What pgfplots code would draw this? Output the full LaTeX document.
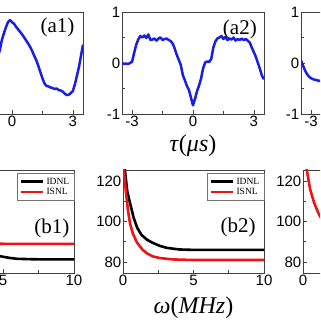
\documentclass[border=0pt]{standalone}
\usepackage{fontspec}
\setmainfont{Liberation Serif}
\setsansfont{Liberation Sans}
\usepackage{pgfplots}
\pgfplotsset{compat=1.18}

\definecolor{traceblue}{RGB}{25,30,228}
\definecolor{tracered}{RGB}{238,20,20}

\tikzset{
  trace/.style={line width=2.5pt, traceblue, line join=round},
  idnl/.style={line width=2.6pt, black, line join=round},
  isnl/.style={line width=2.6pt, tracered, line join=round},
  tag/.style={font=\fontsize{21}{21}\selectfont},
}

\pgfplotsset{
  panel/.style={
    scale only axis, width=142pt, height=102pt,
    anchor=south west,
    axis line style={line width=0.8pt, black!75},
    tick style={line width=0.7pt, black!75},
    major tick length=3.5pt, minor tick length=3pt,
    tick pos=left,
    tick label style={font=\fontsize{15}{15}\selectfont\sffamily, inner sep=1.5pt},
    xlabel style={at={(axis description cs:0.5,0)}, anchor=center, yshift=-32pt,
                  font=\fontsize{24}{24}\selectfont},
  },
  tpanel/.style={panel,
    xmin=-3.5, xmax=3.5, ymin=-1, ymax=1,
    xtick={-3,0,3}, xticklabels={-3,0,3},
    ytick={-1,0,1}, yticklabels={-1,0,1},
    minor xtick={-1.5,1.5}, minor ytick={-0.5,0.5},
  },
  fpanel/.style={panel, height=103pt,
    xmin=0, xmax=10, ymin=74.6, ymax=125.4,
    xtick={0,5,10}, xticklabels={0,5,10},
    ytick={80,100,120}, yticklabels={80,100,120},
    minor xtick={2.5,7.5}, minor ytick={90,110},
    legend style={at={(axis description cs:1,0.97)}, anchor=north east,
      draw=black!55, line width=0.5pt, inner sep=2.5pt, row sep=-1.5pt,
      font=\fontsize{9.5}{10}\selectfont, fill=white},
    legend cell align=left,
    legend image code/.code={\draw[line width=2.6pt] (0pt,0pt) -- (22pt,0pt);},
  },
}

\begin{document}
\begin{tikzpicture}
\begin{scope}
\clip (0,0) rectangle (320pt,320pt);

% ---------------- correlation traces ----------------
\begin{axis}[tpanel, at={(-59pt,206pt)}]
\addplot[trace] coordinates {
(-3.5,0.30) (-3.0,0.10) (-2.5,-0.30) (-2.0,-0.58) (-1.5,-0.50) (-1.0,-0.20)
(-0.8,0.02) (-0.6,0.25) (-0.5,0.45) (-0.4,0.58) (-0.3,0.70) (-0.2,0.80)
(-0.1,0.84) (0.0,0.80) (0.1,0.77) (0.2,0.71) (0.3,0.66) (0.4,0.61)
(0.5,0.56) (0.6,0.50) (0.7,0.44) (0.8,0.38) (0.9,0.31) (1.0,0.23)
(1.1,0.14) (1.2,0.05) (1.3,-0.06) (1.4,-0.18) (1.5,-0.30) (1.6,-0.40)
(1.7,-0.45) (1.8,-0.46) (1.9,-0.48) (2.0,-0.49) (2.1,-0.51) (2.2,-0.50)
(2.3,-0.53) (2.4,-0.54) (2.5,-0.56) (2.6,-0.60) (2.7,-0.63) (2.8,-0.62)
(2.9,-0.59) (3.0,-0.55) (3.1,-0.42) (3.2,-0.25) (3.3,-0.08) (3.4,0.14)
(3.5,0.36)};
\node[tag] at (axis description cs:0.82,0.853) {(a1)};
\end{axis}

\begin{axis}[tpanel, at={(122pt,206pt)}, xlabel={\textit{τ}(\textit{μs})}]
\addplot[trace] coordinates {
(-3.5,0.00) (-3.4,-0.02) (-3.3,-0.01) (-3.2,-0.02) (-3.1,0.00) (-3.0,0.03)
(-2.9,0.20) (-2.8,0.36) (-2.7,0.46) (-2.6,0.53) (-2.5,0.50) (-2.4,0.54)
(-2.3,0.49) (-2.2,0.56) (-2.1,0.45) (-2.0,0.46) (-1.9,0.48) (-1.8,0.44)
(-1.7,0.48) (-1.6,0.50) (-1.5,0.45) (-1.4,0.47) (-1.3,0.48) (-1.2,0.45)
(-1.1,0.43) (-1.0,0.38) (-0.9,0.28) (-0.8,0.16) (-0.7,0.06) (-0.6,-0.04)
(-0.5,-0.24) (-0.4,-0.34) (-0.3,-0.45) (-0.2,-0.53) (-0.1,-0.68) (0.0,-0.83)
(0.1,-0.70) (0.2,-0.55) (0.3,-0.44) (0.4,-0.30) (0.5,-0.10) (0.6,0.01)
(0.7,0.03) (0.8,0.02) (0.9,0.08) (1.0,0.30) (1.1,0.42) (1.2,0.48)
(1.3,0.50) (1.4,0.53) (1.5,0.47) (1.6,0.51) (1.7,0.45) (1.8,0.48)
(1.9,0.46) (2.0,0.50) (2.1,0.44) (2.2,0.47) (2.3,0.45) (2.4,0.48)
(2.5,0.45) (2.6,0.47) (2.7,0.44) (2.8,0.40) (2.9,0.30) (3.0,0.21)
(3.1,0.12) (3.2,0.00) (3.3,-0.12) (3.4,-0.25) (3.5,-0.32)};
\node[tag] at (axis description cs:0.83,0.833) {(a2)};
\end{axis}

\begin{axis}[tpanel, at={(301pt,206pt)}]
\addplot[trace] coordinates {
(-3.5,0.05) (-3.4,-0.05) (-3.3,-0.15) (-3.2,-0.22) (-3.1,-0.27) (-3.0,-0.30)
(-2.9,-0.32) (-2.8,-0.33) (-2.7,-0.34) (-2.6,-0.35) (-2.5,-0.36) (-2.3,-0.38)};
\end{axis}

% ---------------- noise level spectra ----------------
\begin{axis}[fpanel, at={(-68pt,47pt)}]
\addplot[idnl] coordinates {
(0.2,130) (0.5,115) (1.0,103) (1.5,96) (2.0,91) (3.0,86) (4.0,84)
(4.5,83.4) (5.0,82.6) (5.5,82.0) (6.0,81.6) (6.5,81.5) (7.0,81.4)
(8.0,81.3) (9.0,81.3) (10.0,81.3)};
\addlegendentry{IDNL}
\addplot[isnl] coordinates {
(0.2,130) (0.5,112) (1.0,100) (1.5,94) (2.0,91.5) (3.0,89.8) (4.0,89.2)
(5.0,89.0) (6.0,89.0) (7.0,89.0) (8.0,89.0) (9.0,89.0) (10.0,89.0)};
\addlegendentry{ISNL}
\node[tag] at (axis description cs:0.845,0.437) {(b1)};
\end{axis}

\begin{axis}[fpanel, at={(123pt,47pt)}, width=141pt, xlabel={\textit{ω}(\textit{MHz})},
  xlabel style={yshift=-3pt}]
\addplot[idnl] coordinates {
(0.05,130) (0.14,125) (0.3,115) (0.5,109) (0.75,102) (1.0,97) (1.3,93.5)
(1.7,91) (2.1,89.5) (2.6,88) (3.1,87) (4.0,86.2) (5.0,86.0) (6.0,86.0)
(7.0,86.0) (8.0,86.0) (9.0,86.0) (10.0,86.0)};
\addlegendentry{IDNL}
\addplot[isnl] coordinates {
(0.03,130) (0.07,125) (0.2,115) (0.35,105.6) (0.5,99) (0.7,94) (1.0,89.5)
(1.4,86) (1.7,84.3) (2.1,82.8) (2.6,82) (3.5,81.3) (5.0,81.0) (6.0,81.0)
(7.0,81.0) (8.0,81.0) (9.0,81.0) (10.0,81.0)};
\addlegendentry{ISNL}
\node[tag] at (axis description cs:0.816,0.447) {(b2)};
\end{axis}

\begin{axis}[fpanel, at={(303pt,47pt)}, width=141pt]
\addplot[isnl] coordinates {
(0.1,130) (0.28,125) (0.5,116) (0.8,109) (1.1,104) (1.5,99) (2.0,95) (2.5,92)};
\end{axis}

\end{scope}
\pgfresetboundingbox
\path[use as bounding box] (0,0) rectangle (320pt,320pt);
\end{tikzpicture}
\end{document}
